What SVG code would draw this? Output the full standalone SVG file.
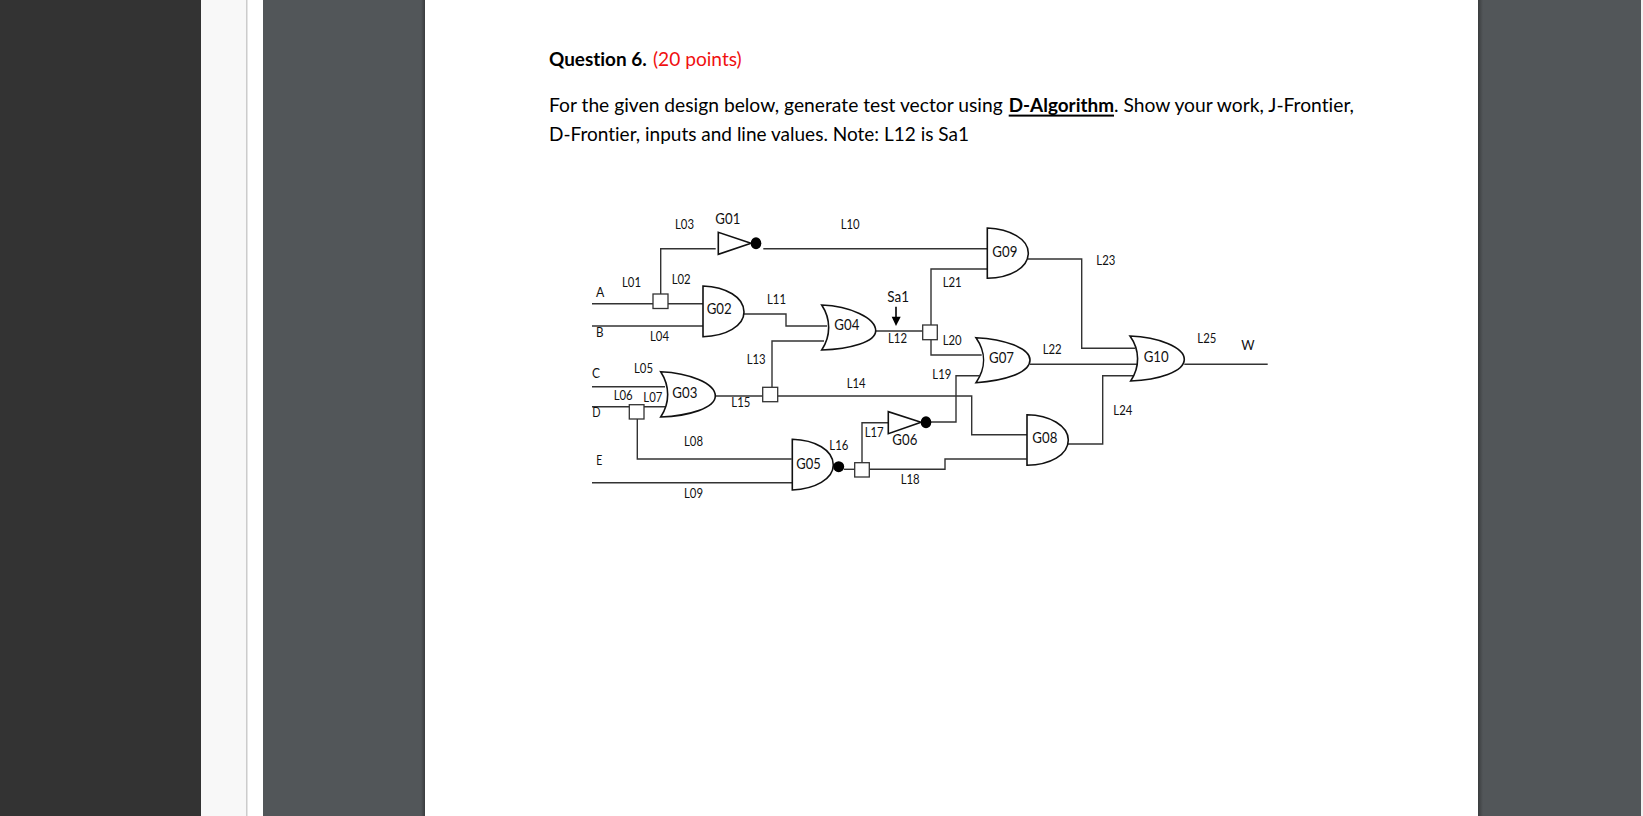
<svg xmlns="http://www.w3.org/2000/svg" width="1643" height="816" viewBox="0 0 1643 816">
<style>
text{font-family:"Lato","Open Sans","Liberation Sans",sans-serif;fill:#111;font-variant-ligatures:none}
.l{font-size:13.5px}
.g{font-size:15.3px}
.p{font-size:12.8px}
.h{font-size:19px;fill:#000}
.w{fill:none;stroke:#333;stroke-width:1.4}
.s{fill:#fff;stroke:#111;stroke-width:1.6}
.b{fill:#000;stroke:none}
.x{fill:#fff;stroke:#333;stroke-width:1.3}
</style>
<defs>
<linearGradient id="sl" x1="0" x2="1"><stop offset="0" stop-color="#3a3c3e"/><stop offset="1" stop-color="#525659"/></linearGradient>
<linearGradient id="sr" x1="0" x2="1"><stop offset="0" stop-color="#525659"/><stop offset="1" stop-color="#3a3c3e"/></linearGradient>
</defs>
<g id="background">
<rect width="1643" height="816" fill="#fff"/>
<rect width="201" height="816" fill="#333"/>
<rect x="201" width="45" height="816" fill="#f8f8f8"/>
<rect x="246" width="1.5" height="816" fill="#ccc"/>
<rect x="263" width="162" height="816" fill="#525659"/>
<rect x="421" width="4" height="816" fill="url(#sr)"/>
<rect x="1478" width="163" height="816" fill="#525659"/>
<rect x="1478" width="5" height="816" fill="url(#sl)"/>
<rect x="1641" width="2" height="816" fill="#f1f1f1"/>
</g>
<g id="question">
<text class="h" x="549" y="65.7" font-weight="700" textLength="97.7" lengthAdjust="spacingAndGlyphs">Question 6.</text>
<text class="h" x="653" y="65.7" style="fill:#f01010" textLength="88.7" lengthAdjust="spacingAndGlyphs">(20 points)</text>
<text class="h" x="549" y="112.3" textLength="453.7" lengthAdjust="spacingAndGlyphs">For the given design below, generate test vector using</text>
<text class="h" x="1008.7" y="112.3" font-weight="700" textLength="105.3" lengthAdjust="spacingAndGlyphs">D-Algorithm</text>
<rect x="1008.7" y="114.6" width="105.3" height="2" fill="#000"/>
<text class="h" x="1114" y="112.3" textLength="240" lengthAdjust="spacingAndGlyphs">. Show your work, J-Frontier,</text>
<text class="h" x="549" y="140.7" textLength="420" lengthAdjust="spacingAndGlyphs">D-Frontier, inputs and line values. Note: L12 is Sa1</text>
</g>
<g id="connectors">
<path class="w" d="M592 303.7H653M668 303.7H703"/>
<path class="w" d="M592 326H703"/>
<path class="w" d="M660.7 294V248.7H715.7"/>
<path class="w" d="M763.3 248.7H987"/>
<path class="w" d="M744 314H786V326H827"/>
<path class="w" d="M772 387.3V341H824"/>
<path class="w" d="M875.7 331H922.7"/>
<path class="w" d="M931 325V269H987"/>
<path class="w" d="M931 339.7V355H981.7"/>
<path class="w" d="M1028 259H1081.7V348.3H1135"/>
<path class="w" d="M1030 364.3H1137"/>
<path class="w" d="M1184.3 364.3H1267.7"/>
<path class="w" d="M979 375.7H956V422H930"/>
<path class="w" d="M862 462.7V422.7H888"/>
<path class="w" d="M869.3 469.3H945V459H1026.7"/>
<path class="w" d="M777.7 396H971.7V434.7H1027"/>
<path class="w" d="M1068 444H1102.7V375.7H1133"/>
<path class="w" d="M592 386.7H665"/>
<path class="w" d="M592 406.7H629.3M644 406.7H665"/>
<path class="w" d="M637.3 419V459H791.7"/>
<path class="w" d="M592 482.7H792"/>
<path class="w" d="M844 469.3H854.7"/>
<path class="w" d="M715 396H762.7"/>
<path fill="none" stroke="#000" stroke-width="1.6" d="M896 306.7V318"/>
<path class="b" d="M891.7 316.7H900.7L896 326Z"/>
</g>
<g id="junctions">
<rect class="x" x="653" y="294" width="15" height="14.5"/>
<rect class="x" x="629.3" y="404.7" width="14.7" height="14.3"/>
<rect class="x" x="762.7" y="387.3" width="15" height="14.4"/>
<rect class="x" x="922.7" y="325" width="14.6" height="14.7"/>
<rect class="x" x="854.7" y="462.7" width="14.6" height="14.3"/>
</g>
<g id="G01"><path class="s" d="M718.3 232.3V254.3L751 243.3Z"/><ellipse class="b" cx="756" cy="243.3" rx="5.3" ry="6"/><text class="g" x="715.3" y="224" textLength="25" lengthAdjust="spacingAndGlyphs">G01</text></g>
<g id="G02"><path class="s" d="M703 286C726 287 744 297 744 312C744 326 726 336 703 336.7Z"/><text class="g" x="706.7" y="313.7" textLength="25" lengthAdjust="spacingAndGlyphs">G02</text></g>
<g id="G03"><path class="s" d="M660.7 371.7C689 373 715.3 383 715.3 396C715.3 408 689 416 660.7 417C670 403 670 386 660.7 371.7Z"/><text class="g" x="672.3" y="397.7" textLength="25" lengthAdjust="spacingAndGlyphs">G03</text></g>
<g id="G04"><path class="s" d="M821.7 305C850 306 875.7 318 875.7 330.7C875.7 342 850 349 821.7 350C831 336 831 319 821.7 305Z"/><text class="g" x="834.3" y="330.3" textLength="25" lengthAdjust="spacingAndGlyphs">G04</text></g>
<g id="G05"><path class="s" d="M792.3 439.3C815 440 833.3 450 833.3 465C833.3 479 815 489 792.3 490Z"/><ellipse class="b" cx="838.7" cy="466.7" rx="5.5" ry="5.5"/><text class="g" x="796.3" y="469.3" textLength="24.5" lengthAdjust="spacingAndGlyphs">G05</text></g>
<g id="G06"><path class="s" d="M888.3 411.7V433.7L921 422.3Z"/><ellipse class="b" cx="926" cy="422.3" rx="5.3" ry="6"/><text class="g" x="892.3" y="445.3" textLength="25" lengthAdjust="spacingAndGlyphs">G06</text></g>
<g id="G07"><path class="s" d="M976 337.7C1004 339 1030 348 1030 360C1030 373 1004 381 976 382.7C986 368 986 352 976 337.7Z"/><text class="g" x="989" y="363.3" textLength="25" lengthAdjust="spacingAndGlyphs">G07</text></g>
<g id="G08"><path class="s" d="M1027 414.7C1050 415 1068.3 426 1068.3 440C1068.3 455 1050 465 1027 465.3Z"/><text class="g" x="1032.3" y="443.3" textLength="25" lengthAdjust="spacingAndGlyphs">G08</text></g>
<g id="G09"><path class="s" d="M987.3 228C1010 229 1028.3 239 1028.3 253C1028.3 268 1010 278 987.3 278.3Z"/><text class="g" x="992.3" y="257.3" textLength="25" lengthAdjust="spacingAndGlyphs">G09</text></g>
<g id="G10"><path class="s" d="M1130 336C1158 337 1184.3 347 1184.3 359.3C1184.3 372 1158 380 1130.7 381C1140 367 1140 350 1130 336Z"/><text class="g" x="1143.7" y="362.3" textLength="25" lengthAdjust="spacingAndGlyphs">G10</text></g>
<g id="labels">
<text class="p" x="675" y="229.3" textLength="19" lengthAdjust="spacingAndGlyphs">L03</text>
<text class="p" x="840.7" y="229.3" textLength="19" lengthAdjust="spacingAndGlyphs">L10</text>
<text class="p" x="622" y="287" textLength="19" lengthAdjust="spacingAndGlyphs">L01</text>
<text class="p" x="671.7" y="284.3" textLength="19" lengthAdjust="spacingAndGlyphs">L02</text>
<text class="p" x="650" y="341" textLength="19" lengthAdjust="spacingAndGlyphs">L04</text>
<text class="p" x="634" y="373.3" textLength="19" lengthAdjust="spacingAndGlyphs">L05</text>
<text class="p" x="613.7" y="400.3" textLength="19" lengthAdjust="spacingAndGlyphs">L06</text>
<text class="p" x="643.3" y="402.3" textLength="19" lengthAdjust="spacingAndGlyphs">L07</text>
<text class="p" x="684" y="446" textLength="19" lengthAdjust="spacingAndGlyphs">L08</text>
<text class="p" x="684" y="498.3" textLength="19" lengthAdjust="spacingAndGlyphs">L09</text>
<text class="p" x="767" y="304.3" textLength="19" lengthAdjust="spacingAndGlyphs">L11</text>
<text class="p" x="888" y="343.3" textLength="19" lengthAdjust="spacingAndGlyphs">L12</text>
<text class="p" x="746.7" y="364.3" textLength="19" lengthAdjust="spacingAndGlyphs">L13</text>
<text class="p" x="846.7" y="388" textLength="19" lengthAdjust="spacingAndGlyphs">L14</text>
<text class="p" x="731.3" y="407.3" textLength="19" lengthAdjust="spacingAndGlyphs">L15</text>
<text class="p" x="829.3" y="450.3" textLength="19" lengthAdjust="spacingAndGlyphs">L16</text>
<text class="p" x="864.7" y="437.3" textLength="19" lengthAdjust="spacingAndGlyphs">L17</text>
<text class="p" x="900.7" y="484" textLength="19" lengthAdjust="spacingAndGlyphs">L18</text>
<text class="p" x="932.3" y="379" textLength="19" lengthAdjust="spacingAndGlyphs">L19</text>
<text class="p" x="942.7" y="344.7" textLength="19" lengthAdjust="spacingAndGlyphs">L20</text>
<text class="p" x="942.7" y="287" textLength="19" lengthAdjust="spacingAndGlyphs">L21</text>
<text class="p" x="1042.7" y="354" textLength="19" lengthAdjust="spacingAndGlyphs">L22</text>
<text class="p" x="1096.3" y="265" textLength="19" lengthAdjust="spacingAndGlyphs">L23</text>
<text class="p" x="1113.3" y="415" textLength="19" lengthAdjust="spacingAndGlyphs">L24</text>
<text class="p" x="1197.3" y="343.3" textLength="19" lengthAdjust="spacingAndGlyphs">L25</text>
<text class="g" x="887.3" y="302" textLength="21.7" lengthAdjust="spacingAndGlyphs">Sa1</text>
<text class="l" x="596" y="297" textLength="8.3" lengthAdjust="spacingAndGlyphs">A</text>
<text class="l" x="596" y="337" textLength="7.5" lengthAdjust="spacingAndGlyphs">B</text>
<text class="l" x="592" y="378.3" textLength="8" lengthAdjust="spacingAndGlyphs">C</text>
<text class="l" x="592.3" y="417" textLength="8.3" lengthAdjust="spacingAndGlyphs">D</text>
<text class="l" x="596.3" y="465" textLength="6" lengthAdjust="spacingAndGlyphs">E</text>
<text class="l" x="1241.3" y="350" textLength="13.3" lengthAdjust="spacingAndGlyphs">W</text>
</g>
</svg>
